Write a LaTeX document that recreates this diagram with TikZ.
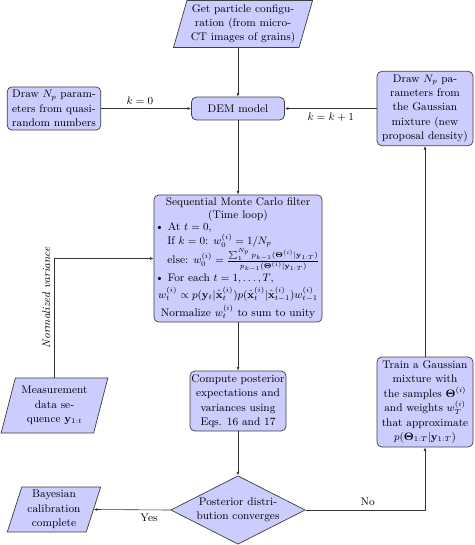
\documentclass[tikz,border=0pt]{standalone}
\usepackage{amsmath,bm}
\usetikzlibrary{shapes.geometric,arrows.meta}
\tikzset{
  base/.style={draw=black!75, line width=0.6pt, fill=blue!20, align=center, inner sep=1pt, font=\fontsize{9.2}{12}\selectfont},
  procbox/.style={base, rectangle, rounded corners=4pt},
  iobox/.style={base, trapezium, trapezium left angle=73, trapezium right angle=107, trapezium stretches=true},
  decbox/.style={base, diamond, aspect=2, inner sep=0pt},
  arr/.style={draw=black!80, line width=0.5pt, -{Latex[length=3pt,width=2.4pt]}},
  lbl/.style={font=\fontsize{9.2}{12}\selectfont}
}
\begin{document}
\begin{tikzpicture}[x=0.8333pt,y=-0.8333pt]
\useasboundingbox (0,0) rectangle (474,545);

\node[iobox, minimum width=116pt, minimum height=39pt] (top) at (243,24)
  {Get particle configu-\\ration (from micro-\\CT images of grains)};
\node[procbox, minimum width=77.5pt, minimum height=19pt] (dem) at (238,108.5) {DEM model};
\node[procbox, minimum width=78pt, minimum height=36pt, align=left] (left) at (54,108.5)
  {Draw $N_p$ param-\\eters from quasi-\\random numbers};
\node[procbox, minimum width=80pt, minimum height=62pt] (right) at (425,108.5)
  {Draw $N_p$ pa-\\rameters from\\the Gaussian\\mixture (new\\proposal density)};
\node[procbox, minimum width=140pt, minimum height=106pt, inner ysep=2pt] (smc) at (238,258.5)
  {\parbox{138pt}{\fontsize{9.2}{10.2}\selectfont\centering Sequential Monte Carlo filter\\(Time loop)\par
   \raggedright
   \textbullet\ At $t=0$,\\
   \hspace*{1.1em}If $k=0$: \mbox{$w_0^{(i)}=1/N_p$}\\
   \makebox[\linewidth][l]{\hspace*{1.1em}else: $w_0^{(i)}=\frac{\sum_1^{N_p} p_{k-1}(\bm{\Theta}^{(i)}|\mathbf{y}_{1:T})}{p_{k-1}(\bm{\Theta}^{(i)}|\mathbf{y}_{1:T})}$}\\[1pt]
   \textbullet\ For each $t=1,\ldots,T$,\par\vspace{2pt}
   \centering\makebox[\linewidth]{$w_t^{(i)}\propto p(\mathbf{y}_t|\hat{\mathbf{x}}_t^{(i)})p(\hat{\mathbf{x}}_t^{(i)}|\hat{\mathbf{x}}_{t-1}^{(i)})w_{t-1}^{(i)}$}\\[2pt]
   Normalize $w_t^{(i)}$ to sum to unity\par}};
\node[procbox, minimum width=80pt, minimum height=50pt] (comp) at (238,401)
  {Compute posterior\\expectations and\\variances using\\Eqs. 16 and 17};
\node[decbox, minimum width=112pt, minimum height=57pt] (dia) at (238,510)
  {Posterior distri-\\bution converges};
\node[procbox, minimum width=80pt, minimum height=75pt] (train) at (425,402)
  {Train a Gaussian\\mixture with\\the samples $\bm{\Theta}^{(i)}$\\and weights $w_T^{(i)}$\\that approximate\\$p(\bm{\Theta}_{1:T}|\mathbf{y}_{1:T})$};
\node[iobox, minimum width=89pt, minimum height=46pt] (meas) at (54.5,405.5)
  {Measurement\\data se-\\quence $\mathbf{y}_{1:t}$};
\node[iobox, minimum width=78pt, minimum height=37.5pt] (bayes) at (54,509.5)
  {Bayesian\\calibration\\complete};

\draw[arr] (top.south -| dem.north) -- (dem.north);
\draw[arr] (left.east) -- node[lbl, above, pos=0.43] {$k=0$} (dem.west);
\draw[arr] (right.west) -- node[lbl, below] {$k=k+1$} (dem.east);
\draw[arr] (dem) -- (smc);
\draw[arr] (smc) -- (comp);
\draw[arr] (meas.north) |- node[pos=0.335, rotate=90, anchor=south, font=\fontsize{9.2}{12}\selectfont\itshape] {Normalized variance} (smc.west);
\draw[arr] (comp) -- (dia);
\draw[arr] (dia.west) -- node[lbl, below, pos=0.28] {Yes} (bayes.east);
\draw[arr] (dia.east) -| node[lbl, above, pos=0.26] {No} (train.south);
\draw[arr] (train) -- (right);
\end{tikzpicture}
\end{document}
